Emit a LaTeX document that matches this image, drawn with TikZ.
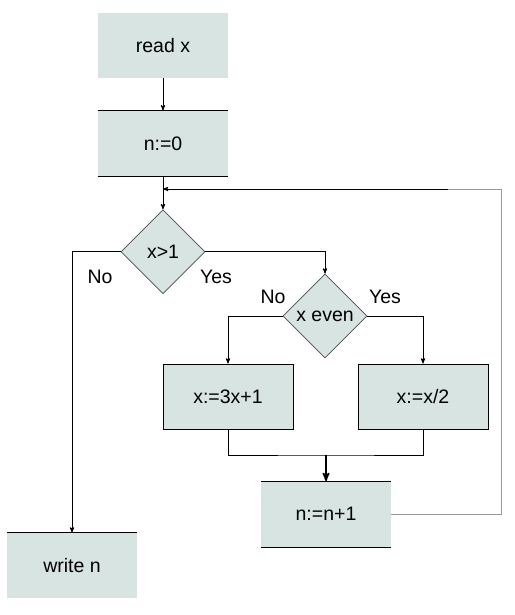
\documentclass[tikz,border=0pt]{standalone}
\usepackage{fontspec}
\setmainfont{Liberation Sans}
\usetikzlibrary{arrows,shapes.geometric,positioning}
\definecolor{boxfill}{HTML}{D8E4E2}
\definecolor{loopgray}{HTML}{9A9A9A}

\begin{document}
\begin{tikzpicture}[->,>=stealth',x=1pt,y=-1pt,line width=0.9pt]
  \tikzset{box/.style={fill=boxfill,minimum width=130pt,minimum height=65pt,inner sep=0pt,font=\fontsize{19.5}{23}\selectfont},
    test/.style={diamond,aspect=1,fill=boxfill,draw=black!70,line width=0.7pt,minimum width=84pt,minimum height=84pt,inner sep=0pt,font=\fontsize{19.5}{23}\selectfont},
    lbl/.style={font=\fontsize{19.5}{23}\selectfont,inner sep=0pt}}
  \useasboundingbox (0,0) rectangle (514,615);

  \node[box]                    (readx)  at (163,45.5)  {read x};
  \node[box,below=32pt of readx] (init)                  {n:=0};
  \node[test,below=33pt of init] (big)                   {x>1};
  \node[test]                   (even)   at (325,316)   {x even};
  \node[box,draw]               (odd)    at (228,396.5) {x:=3x+1};
  \node[box,draw]               (half)   at (423,396.5) {x:=x/2};
  \node[box]                    (incr)   at (326,514)   {n:=n+1};
  \node[box]                    (writen) at (72,565.5)  {write n};

  \node[lbl] (bigno)   at (100,277) {No};
  \node[lbl] (bigyes)  at (216,277) {Yes};
  \node[lbl] (evenno)  at (273,297) {No};
  \node[lbl] (evenyes) at (385,297) {Yes};

  % edge lines of the plain boxes
  \draw[-] (init.north west) -- (init.north east) (init.south west) -- (init.south east);
  \draw[-] (incr.north west) -- (incr.north east) (incr.south west) -- (incr.south east);
  \draw[-] (writen.north west) -- (writen.north east);

  \coordinate (join)   at (326,455);
  \coordinate (corner) at (501,189);
  \coordinate (fade)   at (448,189);
  \coordinate (back)   at (163,189);

  \draw (readx) -- (init);
  \draw (init) -- (big);
  \draw (big.west) -| (writen.north);
  \draw (big.east) -| (even.north);
  \draw (even.west) -| (odd.north);
  \draw (even.east) -| (half.north);
  \draw[-] (odd.south) |- (join) -| (half.south);
  \draw[line width=1.8pt] (join) -- (incr.north);
  \draw[-,loopgray] (incr.east) -| (corner) -- (fade);
  \draw (fade) -- (back);
\end{tikzpicture}
\end{document}
